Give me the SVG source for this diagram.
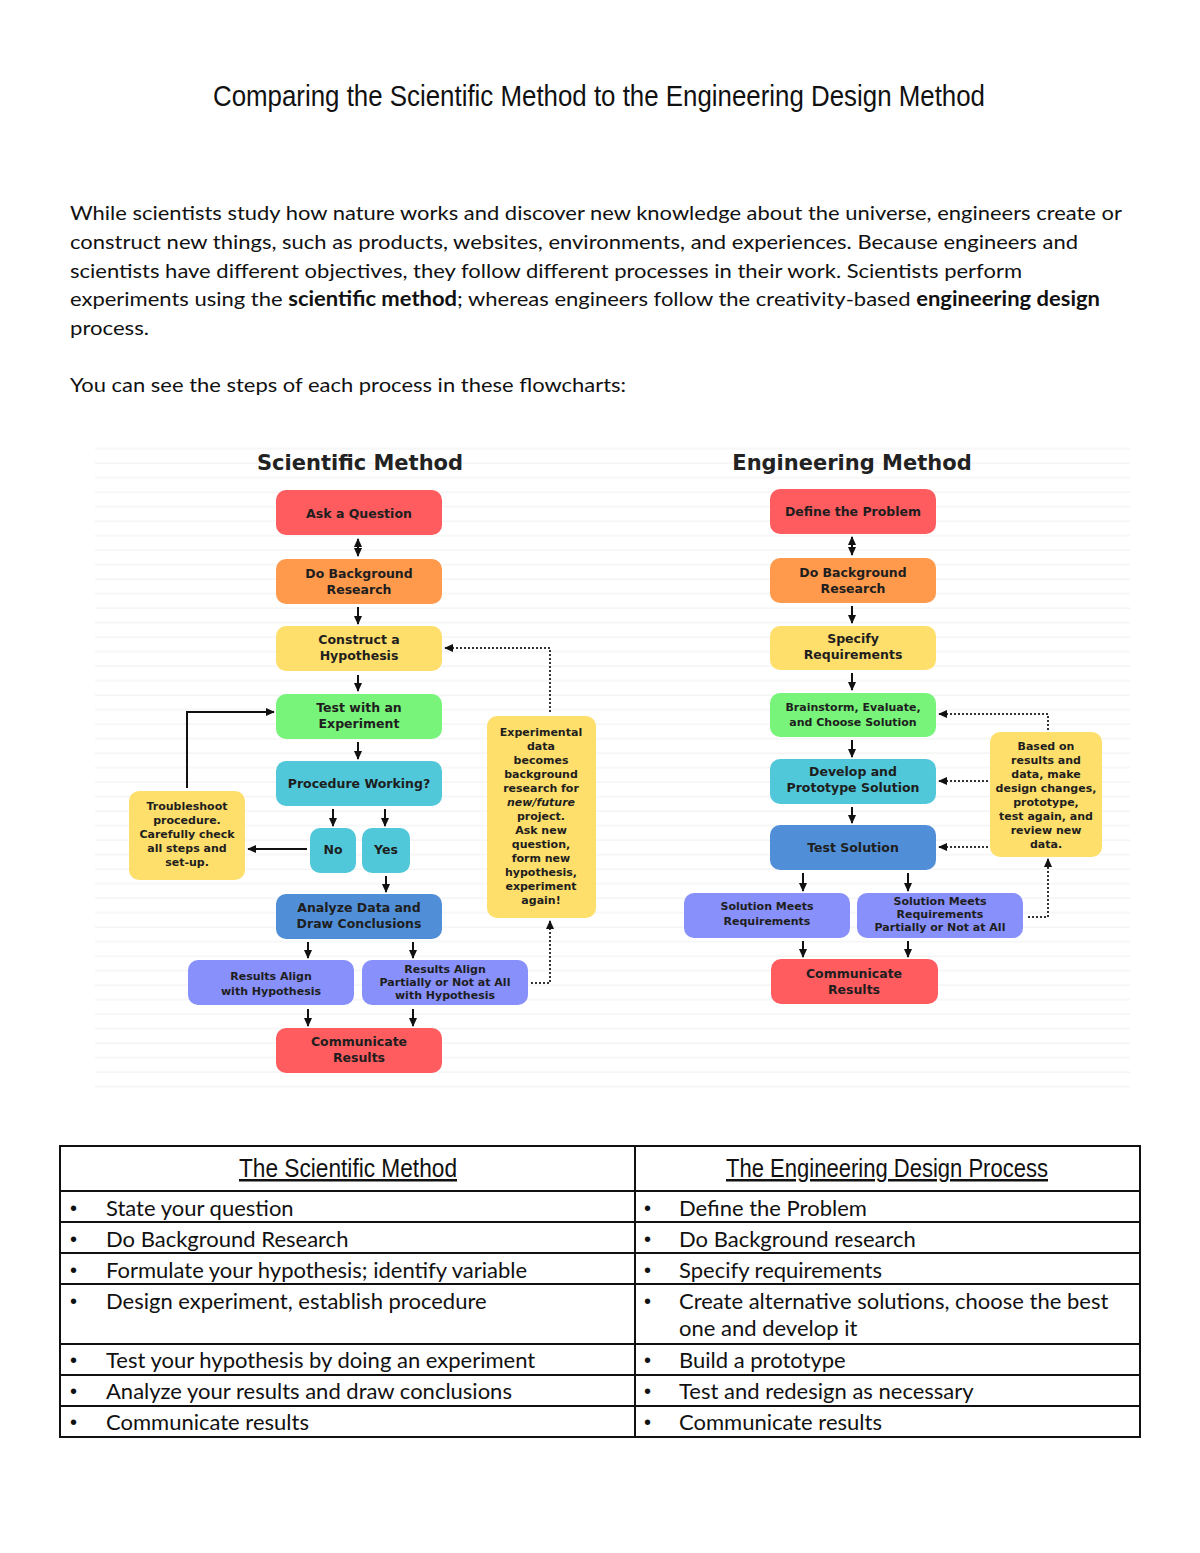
<svg xmlns="http://www.w3.org/2000/svg" width="1200" height="1553" viewBox="0 0 1200 1553">
<defs>
<style>
.title{font-family:"Liberation Sans",Arial,sans-serif;font-size:30px;fill:#111}
.para{font-family:Lato,"Open Sans",sans-serif;font-size:20px;fill:#111}
.hd{font-family:"DejaVu Sans",Verdana,sans-serif;font-weight:bold;font-size:21px;fill:#222;text-anchor:middle}
.n{font-family:"DejaVu Sans",Verdana,sans-serif;font-weight:bold;font-size:12.5px;fill:#1e1e1e;text-anchor:middle}
.s{font-family:"DejaVu Sans",Verdana,sans-serif;font-weight:bold;font-size:11px;fill:#1e1e1e;text-anchor:middle}
.red{fill:#ff5c60}.org{fill:#ff9a4d}.yel{fill:#ffdf6b}.grn{fill:#78f47a}.cyn{fill:#50c8d9}.blu{fill:#508fd8}.per{fill:#8890fb}
.ln{stroke:#111;stroke-width:2;fill:none}
.dot{stroke:#333;stroke-width:2;stroke-dasharray:2 2;fill:none}
.th{font-family:"Liberation Sans",Arial,sans-serif;font-size:25px;fill:#111;text-anchor:middle;text-decoration:underline}
.td{font-family:Lato,"Open Sans",sans-serif;font-size:22px;fill:#111}
.bul{font-family:"Liberation Sans",Arial,sans-serif;font-size:20px;fill:#111}
.grid{stroke:#111;stroke-width:2}
</style>
<marker id="ah" viewBox="0 0 10 10" refX="9" refY="5" markerWidth="9" markerHeight="9" orient="auto-start-reverse" markerUnits="userSpaceOnUse">
<path d="M0,0.5 L10,5 L0,9.5 z" fill="#111"/>
</marker>
<pattern id="stripes" width="10" height="14.5" patternUnits="userSpaceOnUse">
<rect width="10" height="14.5" fill="#ffffff"/>
<rect y="13" width="10" height="1.5" fill="#f5f5f5"/>
</pattern>
</defs>
<rect width="1200" height="1553" fill="#ffffff"/>
<text class="title" x="213" y="106" textLength="772" lengthAdjust="spacingAndGlyphs">Comparing the Scientific Method to the Engineering Design Method</text>
<g id="intro">
<text class="para" x="70" y="220" textLength="1052" lengthAdjust="spacingAndGlyphs">While scientists study how nature works and discover new knowledge about the universe, engineers create or</text>
<text class="para" x="70" y="249" textLength="1008" lengthAdjust="spacingAndGlyphs">construct new things, such as products, websites, environments, and experiences. Because engineers and</text>
<text class="para" x="70" y="278" textLength="952" lengthAdjust="spacingAndGlyphs">scientists have different objectives, they follow different processes in their work. Scientists perform</text>
<text class="para" x="70" y="306" textLength="1030" lengthAdjust="spacingAndGlyphs">experiments using the <tspan font-weight="bold">scientific method</tspan>; whereas engineers follow the creativity-based <tspan font-weight="bold">engineering design</tspan></text>
<text class="para" x="70" y="335" textLength="79" lengthAdjust="spacingAndGlyphs">process.</text>
<text class="para" x="70" y="392" textLength="556" lengthAdjust="spacingAndGlyphs">You can see the steps of each process in these flowcharts:</text>
</g>
<rect x="95" y="435" width="1035" height="665" fill="url(#stripes)"/>
<text class="hd" x="360" y="470">Scientific Method</text>
<text class="hd" x="852" y="470">Engineering Method</text>
<g id="connectors">
<line class="ln" x1="358" y1="539" x2="358" y2="556" marker-start="url(#ah)" marker-end="url(#ah)"/>
<line class="ln" x1="358" y1="607" x2="358" y2="624" marker-end="url(#ah)"/>
<line class="ln" x1="358" y1="675" x2="358" y2="691" marker-end="url(#ah)"/>
<line class="ln" x1="358" y1="742" x2="358" y2="759" marker-end="url(#ah)"/>
<line class="ln" x1="333" y1="809" x2="333" y2="826" marker-end="url(#ah)"/>
<line class="ln" x1="385" y1="809" x2="385" y2="826" marker-end="url(#ah)"/>
<line class="ln" x1="386" y1="876" x2="386" y2="892" marker-end="url(#ah)"/>
<line class="ln" x1="307" y1="849" x2="248" y2="849" marker-end="url(#ah)"/>
<polyline class="ln" points="187,788 187,712 274,712" marker-end="url(#ah)"/>
<line class="ln" x1="308" y1="942" x2="308" y2="958" marker-end="url(#ah)"/>
<line class="ln" x1="413" y1="942" x2="413" y2="958" marker-end="url(#ah)"/>
<line class="ln" x1="308" y1="1009" x2="308" y2="1026" marker-end="url(#ah)"/>
<line class="ln" x1="413" y1="1009" x2="413" y2="1026" marker-end="url(#ah)"/>
<polyline class="dot" points="531,983 550,983 550,921" marker-end="url(#ah)"/>
<polyline class="dot" points="550,712 550,648 445,648" marker-end="url(#ah)"/>
<line class="ln" x1="852" y1="537" x2="852" y2="555" marker-start="url(#ah)" marker-end="url(#ah)"/>
<line class="ln" x1="852" y1="606" x2="852" y2="623" marker-end="url(#ah)"/>
<line class="ln" x1="852" y1="673" x2="852" y2="690" marker-end="url(#ah)"/>
<line class="ln" x1="852" y1="740" x2="852" y2="757" marker-end="url(#ah)"/>
<line class="ln" x1="852" y1="807" x2="852" y2="823" marker-end="url(#ah)"/>
<line class="ln" x1="803" y1="873" x2="803" y2="891" marker-end="url(#ah)"/>
<line class="ln" x1="908" y1="873" x2="908" y2="891" marker-end="url(#ah)"/>
<line class="ln" x1="803" y1="941" x2="803" y2="957" marker-end="url(#ah)"/>
<line class="ln" x1="908" y1="941" x2="908" y2="957" marker-end="url(#ah)"/>
<polyline class="dot" points="1048,730 1048,714 939,714" marker-end="url(#ah)"/>
<line class="dot" x1="988" y1="781" x2="939" y2="781" marker-end="url(#ah)"/>
<line class="dot" x1="988" y1="847" x2="939" y2="847" marker-end="url(#ah)"/>
<polyline class="dot" points="1028,917 1048,917 1048,859" marker-end="url(#ah)"/>
</g>
<g id="s-ask"><rect class="red" x="276" y="490" width="166" height="45" rx="10"/><text class="n" x="359" y="518">Ask a Question</text></g>
<g id="s-bg"><rect class="org" x="276" y="559" width="166" height="45" rx="10"/><text class="n" x="359" y="578">Do Background</text><text class="n" x="359" y="594">Research</text></g>
<g id="s-hyp"><rect class="yel" x="276" y="626" width="166" height="45" rx="10"/><text class="n" x="359" y="644">Construct a</text><text class="n" x="359" y="660">Hypothesis</text></g>
<g id="s-test"><rect class="grn" x="276" y="694" width="166" height="45" rx="10"/><text class="n" x="359" y="712">Test with an</text><text class="n" x="359" y="728">Experiment</text></g>
<g id="s-proc"><rect class="cyn" x="276" y="761" width="166" height="45" rx="10"/><text class="n" x="359" y="788">Procedure Working?</text></g>
<g id="s-no"><rect class="cyn" x="310" y="828" width="46" height="45" rx="10"/><text class="n" x="333" y="854">No</text></g>
<g id="s-yes"><rect class="cyn" x="362" y="828" width="48" height="45" rx="10"/><text class="n" x="386" y="854">Yes</text></g>
<g id="s-trouble"><rect class="yel" x="129" y="791" width="116" height="89" rx="10"/>
<text class="s" x="187" y="810">Troubleshoot</text><text class="s" x="187" y="824">procedure.</text><text class="s" x="187" y="838">Carefully check</text><text class="s" x="187" y="852">all steps and</text><text class="s" x="187" y="866">set-up.</text></g>
<g id="s-analyze"><rect class="blu" x="276" y="894" width="166" height="45" rx="10"/><text class="n" x="359" y="912">Analyze Data and</text><text class="n" x="359" y="928">Draw Conclusions</text></g>
<g id="s-align"><rect class="per" x="188" y="960" width="166" height="45" rx="10"/><text class="s" x="271" y="980">Results Align</text><text class="s" x="271" y="995">with Hypothesis</text></g>
<g id="s-partial"><rect class="per" x="362" y="960" width="166" height="45" rx="10"/><text class="s" x="445" y="973">Results Align</text><text class="s" x="445" y="986">Partially or Not at All</text><text class="s" x="445" y="999">with Hypothesis</text></g>
<g id="s-comm"><rect class="red" x="276" y="1028" width="166" height="45" rx="10"/><text class="n" x="359" y="1046">Communicate</text><text class="n" x="359" y="1062">Results</text></g>
<g id="s-exp"><rect class="yel" x="487" y="716" width="109" height="202" rx="10"/>
<text class="s" x="541" y="736">Experimental</text><text class="s" x="541" y="750">data</text><text class="s" x="541" y="764">becomes</text><text class="s" x="541" y="778">background</text><text class="s" x="541" y="792">research for</text><text class="s" x="541" y="806" font-style="italic">new/future</text><text class="s" x="541" y="820">project.</text><text class="s" x="541" y="834">Ask new</text><text class="s" x="541" y="848">question,</text><text class="s" x="541" y="862">form new</text><text class="s" x="541" y="876">hypothesis,</text><text class="s" x="541" y="890">experiment</text><text class="s" x="541" y="904">again!</text></g>
<g id="e-define"><rect class="red" x="770" y="489" width="166" height="45" rx="10"/><text class="n" x="853" y="516">Define the Problem</text></g>
<g id="e-bg"><rect class="org" x="770" y="558" width="166" height="45" rx="10"/><text class="n" x="853" y="577">Do Background</text><text class="n" x="853" y="593">Research</text></g>
<g id="e-spec"><rect class="yel" x="770" y="626" width="166" height="44" rx="10"/><text class="n" x="853" y="643">Specify</text><text class="n" x="853" y="659">Requirements</text></g>
<g id="e-brain"><rect class="grn" x="770" y="693" width="166" height="44" rx="10"/><text class="s" x="853" y="711" font-size="11.5">Brainstorm, Evaluate,</text><text class="s" x="853" y="726" font-size="11.5">and Choose Solution</text></g>
<g id="e-dev"><rect class="cyn" x="770" y="759" width="166" height="45" rx="10"/><text class="n" x="853" y="776">Develop and</text><text class="n" x="853" y="792">Prototype Solution</text></g>
<g id="e-test"><rect class="blu" x="770" y="825" width="166" height="45" rx="10"/><text class="n" x="853" y="852">Test Solution</text></g>
<g id="e-meets"><rect class="per" x="684" y="893" width="166" height="45" rx="10"/><text class="s" x="767" y="910">Solution Meets</text><text class="s" x="767" y="925">Requirements</text></g>
<g id="e-partial"><rect class="per" x="857" y="893" width="166" height="45" rx="10"/><text class="s" x="940" y="905">Solution Meets</text><text class="s" x="940" y="918">Requirements</text><text class="s" x="940" y="931">Partially or Not at All</text></g>
<g id="e-comm"><rect class="red" x="771" y="959" width="167" height="45" rx="10"/><text class="n" x="854" y="978">Communicate</text><text class="n" x="854" y="994">Results</text></g>
<g id="e-based"><rect class="yel" x="990" y="732" width="112" height="125" rx="10"/>
<text class="s" x="1046" y="750">Based on</text><text class="s" x="1046" y="764">results and</text><text class="s" x="1046" y="778">data, make</text><text class="s" x="1046" y="792">design changes,</text><text class="s" x="1046" y="806">prototype,</text><text class="s" x="1046" y="820">test again, and</text><text class="s" x="1046" y="834">review new</text><text class="s" x="1046" y="848">data.</text></g>
<g id="table">
<rect x="60" y="1146" width="1080" height="291" fill="none" class="grid"/>
<line class="grid" x1="635" y1="1146" x2="635" y2="1437"/>
<line class="grid" x1="60" y1="1191" x2="1140" y2="1191"/>
<line class="grid" x1="60" y1="1222" x2="1140" y2="1222"/>
<line class="grid" x1="60" y1="1253" x2="1140" y2="1253"/>
<line class="grid" x1="60" y1="1284" x2="1140" y2="1284"/>
<line class="grid" x1="60" y1="1344" x2="1140" y2="1344"/>
<line class="grid" x1="60" y1="1375" x2="1140" y2="1375"/>
<line class="grid" x1="60" y1="1406" x2="1140" y2="1406"/>
<text class="th" x="348" y="1177" textLength="218" lengthAdjust="spacingAndGlyphs">The Scientific Method</text>
<text class="th" x="887" y="1177" textLength="322" lengthAdjust="spacingAndGlyphs">The Engineering Design Process</text>
<g class="bul">
<text x="70" y="1215">•</text><text x="70" y="1246">•</text><text x="70" y="1277">•</text><text x="70" y="1308">•</text><text x="70" y="1367">•</text><text x="70" y="1398">•</text><text x="70" y="1429">•</text>
<text x="644" y="1215">•</text><text x="644" y="1246">•</text><text x="644" y="1277">•</text><text x="644" y="1308">•</text><text x="644" y="1367">•</text><text x="644" y="1398">•</text><text x="644" y="1429">•</text>
</g>
<text class="td" x="106" y="1216">State your question</text>
<text class="td" x="106" y="1247">Do Background Research</text>
<text class="td" x="106" y="1278">Formulate your hypothesis; identify variable</text>
<text class="td" x="106" y="1309">Design experiment, establish procedure</text>
<text class="td" x="106" y="1368">Test your hypothesis by doing an experiment</text>
<text class="td" x="106" y="1399">Analyze your results and draw conclusions</text>
<text class="td" x="106" y="1430">Communicate results</text>
<text class="td" x="679" y="1216">Define the Problem</text>
<text class="td" x="679" y="1247">Do Background research</text>
<text class="td" x="679" y="1278">Specify requirements</text>
<text class="td" x="679" y="1309">Create alternative solutions, choose the best</text>
<text class="td" x="679" y="1336">one and develop it</text>
<text class="td" x="679" y="1368">Build a prototype</text>
<text class="td" x="679" y="1399">Test and redesign as necessary</text>
<text class="td" x="679" y="1430">Communicate results</text>
</g>
</svg>
